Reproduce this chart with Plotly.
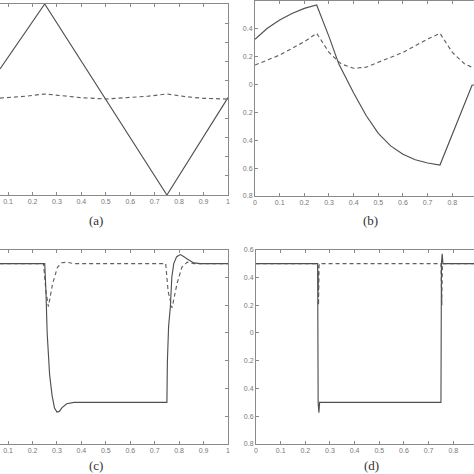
import plotly.graph_objects as go

W = H = 474

# (a) triangle reference and dashed response
a_x_solid = [0.067, 0.25, 0.75, 1.0]
a_y_solid = [0.32, 1.0, -1.0, 0.02]
a_x_dash = [0.067, 0.1, 0.175, 0.25, 0.325, 0.4, 0.5, 0.6, 0.675, 0.75, 0.825, 0.9, 1.0]
a_y_dash = [0.015, 0.019, 0.035, 0.058, 0.035, 0.019, 0.005, 0.019, 0.035, 0.058, 0.03, 0.012, 0.005]

# (b)
b_x_solid = [0.0, 0.05, 0.1, 0.15, 0.2, 0.25, 0.3, 0.34, 0.4, 0.45, 0.5, 0.55, 0.6, 0.65, 0.7, 0.75, 0.88, 0.9]
b_y_solid = [0.325, 0.404, 0.464, 0.51, 0.547, 0.571, 0.344, 0.147, -0.06, -0.22, -0.35, -0.44, -0.5, -0.54, -0.563, -0.578, -0.005, 0.0]
b_x_dash = [0.0, 0.1, 0.2, 0.25, 0.3, 0.35, 0.4, 0.45, 0.5, 0.6, 0.7, 0.75, 0.8, 0.85, 0.89]
b_y_dash = [0.14, 0.212, 0.308, 0.368, 0.231, 0.148, 0.117, 0.124, 0.16, 0.231, 0.327, 0.368, 0.231, 0.148, 0.117]

# (c)
c_x_solid = [0.067, 0.25, 0.255, 0.26, 0.27, 0.28, 0.29, 0.30, 0.31, 0.32, 0.34, 0.37, 0.75,
             0.752, 0.757, 0.764, 0.77, 0.778, 0.79, 0.805, 0.82, 0.833, 0.86, 0.887, 1.0]
c_y_solid = [0.5, 0.5, 0.3, 0.0, -0.3, -0.45, -0.54, -0.57, -0.565, -0.54, -0.51, -0.5, -0.5,
             -0.2, 0.05, 0.185, 0.4, 0.5, 0.55, 0.565, 0.55, 0.533, 0.505, 0.5, 0.5]
c_x_dash = [0.067, 0.245, 0.255, 0.265, 0.282, 0.302, 0.32, 0.34, 0.37, 0.745, 0.755, 0.771, 0.791, 0.811, 0.833, 0.86, 1.0]
c_y_dash = [0.5, 0.5, 0.3, 0.19, 0.353, 0.473, 0.506, 0.51, 0.5, 0.5, 0.3, 0.18, 0.353, 0.473, 0.51, 0.5, 0.5]

# (d)
d_x_solid = [0.0, 0.25, 0.252, 0.255, 0.258, 0.75, 0.752, 0.755, 0.758, 0.884]
d_y_solid = [0.5, 0.5, -0.5, -0.575, -0.5, -0.5, 0.5, 0.57, 0.5, 0.5]
d_x_dash = [0.0, 0.25, 0.2515, 0.252, 0.2525, 0.253, 0.2535, 0.254, 0.256, 0.75, 0.7515, 0.752, 0.7525, 0.753, 0.7535, 0.754, 0.756, 0.884]
d_y_dash = [0.5, 0.5, 0.38, 0.45, 0.3, 0.38, 0.2, 0.3, 0.5, 0.5, 0.38, 0.45, 0.3, 0.38, 0.2, 0.3, 0.5, 0.5]

y_ticks = [-0.8, -0.6, -0.4, -0.2, 0.0, 0.2, 0.4, 0.6]
y_ticktext = ["0.8", "0.6", "0.4", "0.2", "0", "0.2", "0.4", "0.6"]
x_ticks_left = [0.1, 0.2, 0.3, 0.4, 0.5, 0.6, 0.7, 0.8, 0.9, 1.0]
x_ticktext_left = ["0.1", "0.2", "0.3", "0.4", "0.5", "0.6", "0.7", "0.8", "0.9", "1"]
x_ticks_right = [0.0, 0.1, 0.2, 0.3, 0.4, 0.5, 0.6, 0.7, 0.8]
x_ticktext_right = ["0", "0.1", "0.2", "0.3", "0.4", "0.5", "0.6", "0.7", "0.8"]

SOLID = dict(color="#505050", width=1.15)
DASH = dict(color="#606060", width=1.15, dash="4px,3px")

fig = go.Figure()
panels = [
    (a_x_solid, a_y_solid, a_x_dash, a_y_dash, "x", "y"),
    (b_x_solid, b_y_solid, b_x_dash, b_y_dash, "x2", "y2"),
    (c_x_solid, c_y_solid, c_x_dash, c_y_dash, "x3", "y3"),
    (d_x_solid, d_y_solid, d_x_dash, d_y_dash, "x4", "y4"),
]
for xs, ys, xd, yd, xa, ya in panels:
    fig.add_trace(go.Scatter(x=xd, y=yd, mode="lines", line=DASH, xaxis=xa, yaxis=ya))
    fig.add_trace(go.Scatter(x=xs, y=ys, mode="lines", line=SOLID, xaxis=xa, yaxis=ya))

tickfont = dict(family="Liberation Sans, Arial, sans-serif", size=7, color="#777777")
common = dict(showgrid=False, zeroline=False, showline=True, linecolor="#8a8a8a", linewidth=1,
              ticks="inside", ticklen=3, tickcolor="#8a8a8a", tickfont=tickfont, automargin=False)

def px_x(p):
    return p / W

def px_y(p):
    return 1 - p / H

top_dom = [px_y(195), px_y(4)]
top_dom_b = [px_y(196), px_y(1)]
bot_dom = [px_y(444), px_y(249.7)]

fig.update_layout(
    width=W, height=H, margin=dict(l=0, r=0, t=0, b=0),
    paper_bgcolor="white", plot_bgcolor="white", showlegend=False,
    xaxis=dict(common, domain=[0, px_x(228)], range=[0.067, 1.0], mirror="ticks",
               tickvals=x_ticks_left, ticktext=x_ticktext_left, anchor="y"),
    yaxis=dict(common, domain=top_dom, range=[-1, 1], side="right",
               tickvals=[-0.8, -0.6, -0.4, -0.2, 0, 0.2, 0.4, 0.6, 0.8], showticklabels=False, anchor="x"),
    xaxis2=dict(common, domain=[px_x(255), 1], range=[0, 0.888], mirror="ticks",
                tickvals=x_ticks_right, ticktext=x_ticktext_right, anchor="y2"),
    yaxis2=dict(common, domain=top_dom_b, range=[-0.8, 0.6], tickvals=y_ticks, ticktext=y_ticktext, anchor="x2"),
    xaxis3=dict(common, domain=[0, px_x(228)], range=[0.067, 1.0], mirror="ticks",
                tickvals=x_ticks_left, ticktext=x_ticktext_left, anchor="y3"),
    yaxis3=dict(common, domain=bot_dom, range=[-0.8, 0.6], side="right",
                tickvals=y_ticks, showticklabels=False, anchor="x3"),
    xaxis4=dict(common, domain=[px_x(256), 1], range=[0, 0.884], mirror="ticks",
                tickvals=x_ticks_right, ticktext=x_ticktext_right, anchor="y4"),
    yaxis4=dict(common, domain=bot_dom, range=[-0.8, 0.6], tickvals=y_ticks, ticktext=y_ticktext, anchor="x4"),
)

labels = ["(a)", "(b)", "(c)", "(d)"]
label_pos = [(96, 220), (370, 220), (96, 465), (371, 465)]
for txt, (lx, ly) in zip(labels, label_pos):
    fig.add_annotation(text=txt, x=px_x(lx), y=px_y(ly), xref="paper", yref="paper",
                       showarrow=False, xanchor="center", yanchor="middle",
                       font=dict(family="Liberation Serif, serif", size=13, color="#333333"))

# page body has a default 8px margin; drop it so the figure fills the window
fig.write_html("out.html", config={"displayModeBar": False},
               post_script="document.body.style.margin='0';")
